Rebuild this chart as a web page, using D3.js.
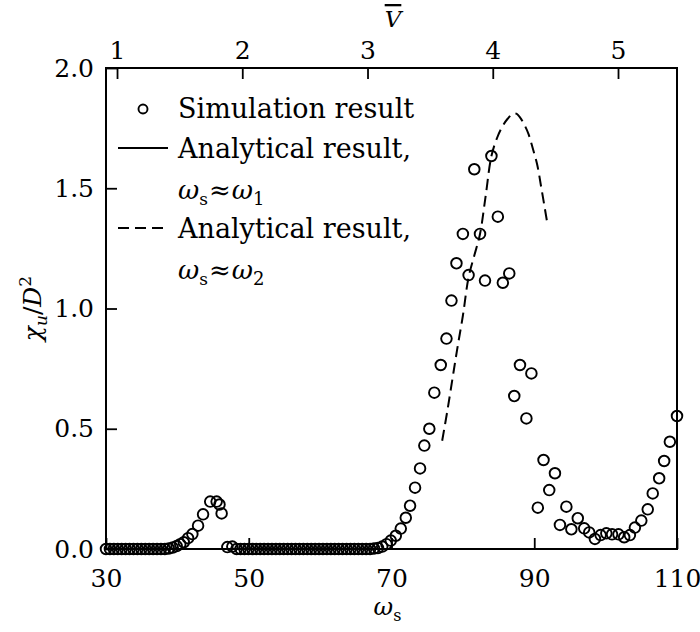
<!DOCTYPE html>
<html>
<head>
<meta charset="utf-8">
<script src="https://cdn.jsdelivr.net/npm/d3@7"></script>
<style>
  body { margin: 0; background: #fff; }
  svg { display: block; }
  text { font-family: "DejaVu Serif", "Liberation Serif", serif; fill: #000; }
</style>
</head>
<body>
<script>
// Simulation result (open circles): omega_s and chi_u / D^2
const simOmega = [
  30.0, 30.55, 31.1, 31.65, 32.2, 32.75, 33.3, 33.85, 34.4, 34.95,
  35.5, 36.05, 36.6, 37.15, 37.7, 38.25, 38.8, 39.35, 39.9, 40.4,
  40.9, 41.5, 42.1, 42.9, 43.6, 44.6, 45.5, 45.9, 46.2,
  47.0, 47.7, 48.3, 48.85, 49.4, 49.95, 50.5, 51.05, 51.6, 52.15,
  52.7, 53.25, 53.8, 54.35, 54.9, 55.45, 56.0, 56.55, 57.1, 57.65,
  58.2, 58.75, 59.3, 59.85, 60.4, 60.95, 61.5, 62.05, 62.6, 63.15,
  63.7, 64.25, 64.8, 65.35, 65.9, 66.45, 67.0, 67.55, 68.1, 68.7,
  69.3, 69.9, 70.6, 71.3, 72.0, 72.6, 73.3, 74.0, 74.6, 75.3,
  76.0, 76.9, 77.7, 78.4, 79.1, 80.0, 80.8, 81.6, 82.4, 83.1,
  84.0, 84.9, 85.6, 86.5, 87.2, 88.0, 88.9, 89.6, 90.5, 91.3,
  92.1, 92.9, 93.6, 94.5, 95.2, 96.1, 97.0, 97.7, 98.5, 99.3,
  100.1, 100.9, 101.8, 102.6, 103.4, 104.1, 105.0, 105.9, 106.6, 107.5,
  108.2, 109.0, 110.0
];
const simChi = [
  0, 0, 0, 0, 0, 0, 0, 0, 0, 0,
  0, 0, 0, 0, 0, 0, 0.002, 0.006, 0.012, 0.02,
  0.028, 0.045, 0.062, 0.097, 0.144, 0.197, 0.197, 0.185, 0.148,
  0.008, 0.01, 0, 0, 0, 0, 0, 0, 0, 0,
  0, 0, 0, 0, 0, 0, 0, 0, 0, 0,
  0, 0, 0, 0, 0, 0, 0, 0, 0, 0,
  0, 0, 0, 0, 0, 0, 0, 0.002, 0.004, 0.01,
  0.02, 0.035, 0.055, 0.085, 0.13, 0.18, 0.255, 0.335, 0.43, 0.5,
  0.65, 0.765, 0.875, 1.033, 1.188, 1.31, 1.139, 1.579, 1.31, 1.116,
  1.634, 1.382, 1.107, 1.146, 0.636, 0.765, 0.543, 0.73, 0.172, 0.37,
  0.245, 0.315, 0.1, 0.176, 0.082, 0.128, 0.086, 0.069, 0.042, 0.058,
  0.065, 0.061, 0.061, 0.049, 0.058, 0.089, 0.118, 0.165, 0.231, 0.294,
  0.366, 0.446, 0.553
];

// Analytical result, omega_s ~ omega_2 (dashed)
const anaOmega = [77.1, 77.8, 78.5, 79.2, 80.0, 80.8, 81.6, 82.4, 83.2, 84.0,
  84.8, 85.6, 86.3, 87.0, 87.5, 88.0, 88.6, 89.2, 89.8, 90.4, 91.0, 91.8];
const anaChi = [0.45, 0.57, 0.7, 0.83, 0.97, 1.13, 1.22, 1.31, 1.47, 1.634,
  1.71, 1.76, 1.79, 1.81, 1.81, 1.795, 1.765, 1.725, 1.665, 1.6, 1.5, 1.36];

const xTicks = [30, 50, 70, 90, 110];
const yTicks = [0, 0.5, 1.0, 1.5, 2.0];
const vTicks = [1, 2, 3, 4, 5];

const width = 700, height = 632;
const margin = { top: 68, right: 23, bottom: 83, left: 106 };

const x = d3.scaleLinear().domain([30, 110]).range([margin.left, width - margin.right]);
const y = d3.scaleLinear().domain([0, 2]).range([height - margin.bottom, margin.top]);
// top axis: V bar, linear in omega_s
const xv = d3.scaleLinear().domain([0.912, 5.471]).range([margin.left, width - margin.right]);

const svg = d3.select("body").append("svg")
  .attr("width", width)
  .attr("height", height)
  .attr("viewBox", [0, 0, width, height]);

const tickFont = 25;

// axes (ticks point inward)
const gx = svg.append("g")
  .attr("transform", `translate(0,${height - margin.bottom})`)
  .call(d3.axisBottom(x).tickValues(xTicks).tickSizeInner(-11).tickSizeOuter(0).tickPadding(20));

const gy = svg.append("g")
  .attr("transform", `translate(${margin.left},0)`)
  .call(d3.axisLeft(y).tickValues(yTicks).tickFormat(d3.format(".1f"))
    .tickSizeInner(-11).tickSizeOuter(0).tickPadding(12));

const gt = svg.append("g")
  .attr("transform", `translate(0,${margin.top})`)
  .call(d3.axisTop(xv).tickValues(vTicks).tickFormat(d3.format("d"))
    .tickSizeInner(-11).tickSizeOuter(0).tickPadding(9));

[gx, gy, gt].forEach(g => {
  g.attr("font-family", null).attr("font-size", null);
  g.select(".domain").remove();
  g.selectAll(".tick line").attr("stroke", "#000").attr("stroke-width", 1.8);
  g.selectAll(".tick text")
    .attr("font-size", tickFont)
    .attr("fill", "#000");
});

// frame
svg.append("rect")
  .attr("x", margin.left)
  .attr("y", margin.top)
  .attr("width", width - margin.left - margin.right)
  .attr("height", height - margin.top - margin.bottom)
  .attr("fill", "none")
  .attr("stroke", "#000")
  .attr("stroke-width", 2);

// dashed analytical curve
const line = d3.line()
  .x((d, i) => x(anaOmega[i]))
  .y((d, i) => y(anaChi[i]))
  .curve(d3.curveCatmullRom);

svg.append("path")
  .attr("d", line(anaOmega))
  .attr("fill", "none")
  .attr("stroke", "#000")
  .attr("stroke-width", 2)
  .attr("stroke-dasharray", "11,6");

// simulation circles
svg.append("g")
  .selectAll("circle")
  .data(simOmega)
  .join("circle")
  .attr("cx", d => x(d))
  .attr("cy", (d, i) => y(simChi[i]))
  .attr("r", 5.3)
  .attr("fill", "none")
  .attr("stroke", "#000")
  .attr("stroke-width", 1.9);

// axis titles
const xt = svg.append("text")
  .attr("x", (margin.left + width - margin.right) / 2 - 4)
  .attr("y", 615)
  .attr("text-anchor", "middle")
  .attr("font-size", 24);
xt.append("tspan").attr("font-style", "italic").text("ω");
xt.append("tspan").attr("font-size", 16).attr("dy", 6).text("s");

svg.append("text")
  .attr("x", 393)
  .attr("y", 27)
  .attr("text-anchor", "middle")
  .attr("font-size", 23)
  .attr("font-style", "italic")
  .style("text-decoration", "overline")
  .text("V");

const yt = svg.append("text")
  .attr("transform", `translate(41,${(margin.top + height - margin.bottom) / 2}) rotate(-90)`)
  .attr("text-anchor", "middle")
  .attr("font-size", 25);
yt.append("tspan").attr("font-style", "italic").text("χ");
yt.append("tspan").attr("font-style", "italic").attr("font-size", 17).attr("dy", 6).text("u");
yt.append("tspan").attr("dy", -6).text("/");
yt.append("tspan").attr("font-style", "italic").text("D");
yt.append("tspan").attr("font-size", 17).attr("dy", -10).text("2");

// legend
const lg = svg.append("g").attr("font-size", 27);
const lx = 178;

lg.append("circle")
  .attr("cx", 143).attr("cy", 109).attr("r", 4.5)
  .attr("fill", "none").attr("stroke", "#000").attr("stroke-width", 1.9);
lg.append("text").attr("x", lx).attr("y", 118).text("Simulation result");

lg.append("line")
  .attr("x1", 118).attr("x2", 168).attr("y1", 148).attr("y2", 148)
  .attr("stroke", "#000").attr("stroke-width", 2);
lg.append("text").attr("x", lx).attr("y", 158).text("Analytical result,");

function approxLabel(yy, sub) {
  const t = lg.append("text").attr("x", lx).attr("y", yy).attr("font-size", 26);
  t.append("tspan").attr("font-style", "italic").text("ω");
  t.append("tspan").attr("font-size", 17).attr("dy", 6).text("s");
  t.append("tspan").attr("dy", -6).attr("dx", 1).text("≈");
  t.append("tspan").attr("font-style", "italic").attr("dx", 1).text("ω");
  t.append("tspan").attr("font-size", 18).attr("dy", 6).text(sub);
}
approxLabel(199, "1");

lg.append("line")
  .attr("x1", 118).attr("x2", 168).attr("y1", 228).attr("y2", 228)
  .attr("stroke", "#000").attr("stroke-width", 2)
  .attr("stroke-dasharray", "11,6");
lg.append("text").attr("x", lx).attr("y", 238).text("Analytical result,");
approxLabel(279, "2");
</script>
</body>
</html>
